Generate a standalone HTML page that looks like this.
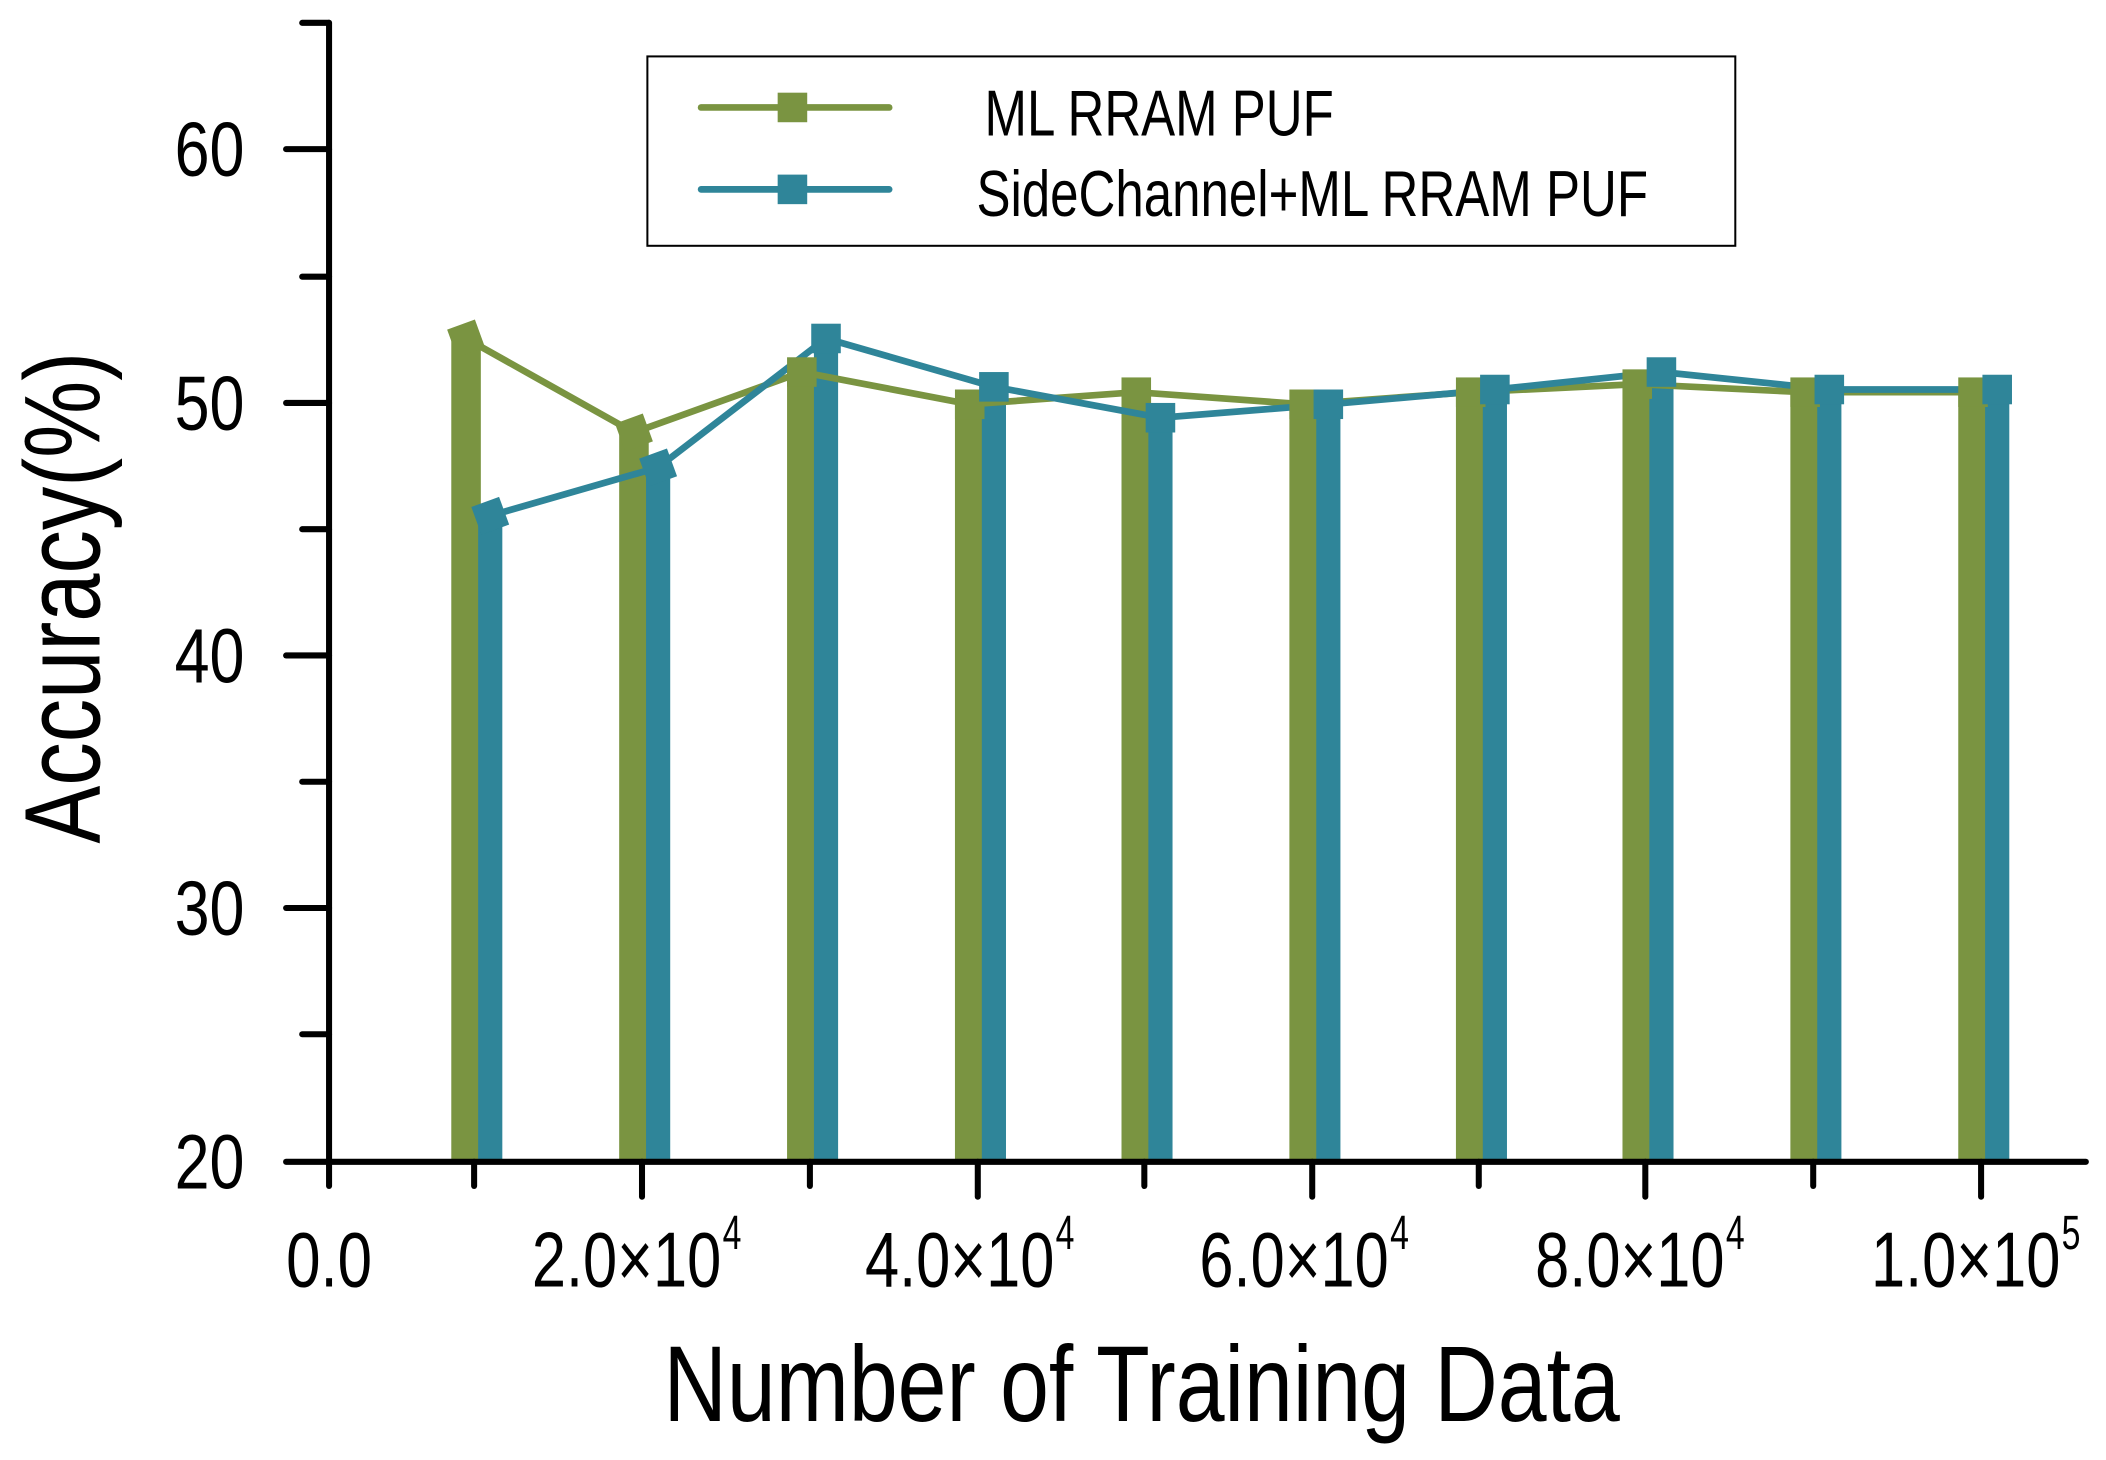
<!DOCTYPE html>
<html><head><style>html,body{margin:0;padding:0;background:#fff}svg{display:block}</style></head><body>
<svg width="2106" height="1460" viewBox="0 0 1568 1087" preserveAspectRatio="none" xmlns="http://www.w3.org/2000/svg" font-family="Liberation Sans, sans-serif">
<rect width="1568" height="1087" fill="#fff"/>
<g fill="#7a9441">
<rect x="336" y="252" width="22" height="611"/>
<rect x="461" y="322" width="22" height="541"/>
<rect x="586" y="277" width="22" height="586"/>
<rect x="711" y="301" width="22" height="562"/>
<rect x="835" y="292" width="22" height="571"/>
<rect x="960" y="301" width="22" height="562"/>
<rect x="1084" y="292" width="22" height="571"/>
<rect x="1208" y="286" width="22" height="577"/>
<rect x="1333" y="292" width="22" height="571"/>
<rect x="1458" y="292" width="22" height="571"/>
</g>
<g fill="#2f8599">
<rect x="356" y="384" width="18" height="479"/>
<rect x="481" y="348" width="18" height="515"/>
<rect x="606" y="252" width="18" height="611"/>
<rect x="731" y="288" width="18" height="575"/>
<rect x="855" y="311" width="18" height="552"/>
<rect x="980" y="301" width="18" height="562"/>
<rect x="1104" y="290" width="18" height="573"/>
<rect x="1228" y="277" width="18" height="586"/>
<rect x="1353" y="290" width="18" height="573"/>
<rect x="1478" y="290" width="18" height="573"/>
</g>
<polyline fill="none" stroke="#7a9441" stroke-width="5" points="347,252 472,322 597,277 722,301 846,292 971,301 1095,292 1219,286 1344,292 1469,292"/>
<polyline fill="none" stroke="#2f8599" stroke-width="5" points="365,384 490,348 615,252 740,288 864,311 989,301 1113,290 1237,277 1362,290 1487,290"/>
<g fill="#7a9441">
<rect x="336" y="241" width="22" height="22" transform="rotate(-20 347 252)"/>
<rect x="461" y="311" width="22" height="22" transform="rotate(-20 472 322)"/>
<rect x="586" y="266" width="22" height="22"/>
<rect x="711" y="290" width="22" height="22"/>
<rect x="835" y="281" width="22" height="22"/>
<rect x="960" y="290" width="22" height="22"/>
<rect x="1084" y="281" width="22" height="22"/>
<rect x="1208" y="275" width="22" height="22"/>
<rect x="1333" y="281" width="22" height="22"/>
<rect x="1458" y="281" width="22" height="22"/>
</g>
<g fill="#2f8599">
<rect x="354" y="373" width="22" height="22" transform="rotate(-20 365 384)"/>
<rect x="479" y="337" width="22" height="22" transform="rotate(-20 490 348)"/>
<rect x="604" y="241" width="22" height="22"/>
<rect x="729" y="277" width="22" height="22"/>
<rect x="853" y="300" width="22" height="22"/>
<rect x="978" y="290" width="22" height="22"/>
<rect x="1102" y="279" width="22" height="22"/>
<rect x="1226" y="266" width="22" height="22"/>
<rect x="1351" y="279" width="22" height="22"/>
<rect x="1476" y="279" width="22" height="22"/>
</g>
<g stroke="#000" stroke-width="4.5" stroke-linecap="round">
<line x1="245" y1="17" x2="245" y2="867"/>
<line x1="213" y1="865" x2="1553" y2="865"/>
<line x1="213" y1="111" x2="245" y2="111"/>
<line x1="213" y1="300" x2="245" y2="300"/>
<line x1="213" y1="488" x2="245" y2="488"/>
<line x1="213" y1="676" x2="245" y2="676"/>
<line x1="225" y1="17" x2="245" y2="17"/>
<line x1="225" y1="206" x2="245" y2="206"/>
<line x1="225" y1="394" x2="245" y2="394"/>
<line x1="225" y1="582" x2="245" y2="582"/>
<line x1="225" y1="770" x2="245" y2="770"/>
<line x1="245" y1="865" x2="245" y2="883"/>
<line x1="353" y1="865" x2="353" y2="883"/>
<line x1="478" y1="865" x2="478" y2="891"/>
<line x1="603" y1="865" x2="603" y2="883"/>
<line x1="728" y1="865" x2="728" y2="891"/>
<line x1="852" y1="865" x2="852" y2="883"/>
<line x1="977" y1="865" x2="977" y2="891"/>
<line x1="1101" y1="865" x2="1101" y2="883"/>
<line x1="1225" y1="865" x2="1225" y2="891"/>
<line x1="1350" y1="865" x2="1350" y2="883"/>
<line x1="1475" y1="865" x2="1475" y2="891"/>
</g>
<g font-size="57" text-anchor="end">
<text x="182" y="131" textLength="52" lengthAdjust="spacingAndGlyphs">60</text>
<text x="182" y="320" textLength="52" lengthAdjust="spacingAndGlyphs">50</text>
<text x="182" y="508" textLength="52" lengthAdjust="spacingAndGlyphs">40</text>
<text x="182" y="696" textLength="52" lengthAdjust="spacingAndGlyphs">30</text>
<text x="182" y="885" textLength="52" lengthAdjust="spacingAndGlyphs">20</text>
</g>
<g font-size="58">
<text x="213" y="958" textLength="64" lengthAdjust="spacingAndGlyphs">0.0</text>
<text x="396" y="958" textLength="141" lengthAdjust="spacingAndGlyphs">2.0×10</text><text x="538" y="930" font-size="36" textLength="14" lengthAdjust="spacingAndGlyphs">4</text>
<text x="644" y="958" textLength="141" lengthAdjust="spacingAndGlyphs">4.0×10</text><text x="786" y="930" font-size="36" textLength="14" lengthAdjust="spacingAndGlyphs">4</text>
<text x="893" y="958" textLength="141" lengthAdjust="spacingAndGlyphs">6.0×10</text><text x="1035" y="930" font-size="36" textLength="14" lengthAdjust="spacingAndGlyphs">4</text>
<text x="1143" y="958" textLength="141" lengthAdjust="spacingAndGlyphs">8.0×10</text><text x="1285" y="930" font-size="36" textLength="14" lengthAdjust="spacingAndGlyphs">4</text>
<text x="1393" y="958" textLength="141" lengthAdjust="spacingAndGlyphs">1.0×10</text><text x="1535" y="930" font-size="36" textLength="14" lengthAdjust="spacingAndGlyphs">5</text>
</g>
<text x="494" y="1058" font-size="80" textLength="712" lengthAdjust="spacingAndGlyphs">Number of Training Data</text>
<text transform="translate(74 628) rotate(-90)" font-size="80" textLength="366" lengthAdjust="spacingAndGlyphs">Accuracy(%)</text>
<rect x="482" y="42" width="810" height="141" fill="#fff" stroke="#000" stroke-width="1.5"/>
<line x1="522" y1="80" x2="662" y2="80" stroke="#7a9441" stroke-width="5" stroke-linecap="round"/>
<rect x="579" y="69" width="22" height="22" fill="#7a9441"/>
<line x1="522" y1="141" x2="662" y2="141" stroke="#2f8599" stroke-width="5" stroke-linecap="round"/>
<rect x="579" y="130" width="22" height="22" fill="#2f8599"/>
<text x="733" y="101" font-size="48" textLength="260" lengthAdjust="spacingAndGlyphs">ML RRAM PUF</text>
<text x="727" y="161" font-size="48" textLength="500" lengthAdjust="spacingAndGlyphs">SideChannel+ML RRAM PUF</text>
</svg>
</body></html>
